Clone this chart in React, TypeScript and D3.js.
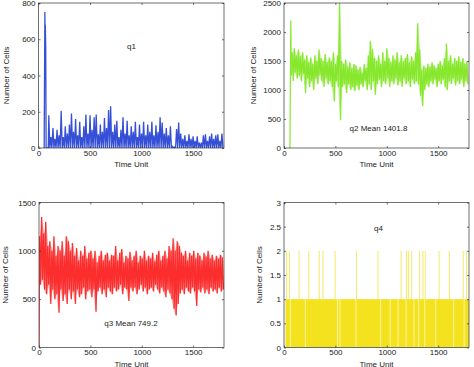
import React from 'react';
import * as d3 from 'd3';

const FONT = '"Liberation Sans", Arial, Helvetica, sans-serif';

// shared time axis
const timeMax = 1800;
const timeTicks = [0, 500, 1000, 1500];
const step = 20;

// q1: opening burst, then spike peaks every 20 time units from t=100
const q1HeadT = [55, 62, 64, 66, 70, 74, 95];
const q1HeadV = [0, 750, 480, 680, 560, 0, 0];
const q1Start = 100;
const q1Peaks = [
  180, 60, 110, 50, 100, 70, 205, 60, 120, 80,
  130, 190, 90, 160, 70, 145, 60, 120, 185, 80,
  180, 100, 170, 185, 75, 130, 90, 165, 110, 210,
  230, 90, 130, 150, 60, 100, 170, 80, 150, 70,
  120, 90, 145, 60, 130, 80, 145, 70, 130, 90,
  145, 70, 125, 90, 170, 140, 80, 110, 70, 120,
  10, 5, 105, 140, 80, 50, 70, 40, 75, 50,
  65, 40, 65, 30, 30, 70, 75, 40, 65, 80,
  50, 70, 75, 40, 80,
];
const q1Ticks = [0, 200, 400, 600, 800];

// q2: highs / lows per 20-unit bin from t=80
const q2HeadT = [58, 66, 72];
const q2HeadV = [0, 2200, 1250];
const q2Start = 80;
const q2Hi = [
  1650, 1720, 1600, 1700, 1580, 1650, 1520, 1600, 1480, 1560,
  1450, 1600, 1500, 1700, 1550, 1500, 1620, 1480, 1560, 1500,
  1650, 1450, 1600, 2550, 1500, 1450, 1520, 1400, 1480, 1380,
  1450, 1420, 1350, 1400, 1300, 1450, 1380, 1600, 1850, 1700,
  1550, 1500, 1600, 1450, 1650, 1500, 1720, 1550, 1480, 1600,
  1520, 1650, 1480, 1600, 1500, 1550, 1620, 1480, 1580, 1500,
  1650, 2150, 1700, 1350, 1420, 1380, 1450, 1400, 1480, 1420,
  1380, 1450, 1500, 1420, 1550, 1800, 1500, 1600, 1450, 1550,
  1500, 1580, 1480, 1550, 1450, 1500,
];
const q2Lo = [
  1150, 1300, 1200, 1250, 1150, 1280, 950, 1200, 1050, 1150,
  1000, 1200, 1100, 1250, 1150, 1050, 1200, 1100, 1150, 1050,
  800, 1150, 1050, 480, 1050, 1100, 950, 1100, 1000, 1050,
  980, 1080, 1000, 1100, 1050, 1150, 1000, 1100, 1000, 1150,
  920, 1100, 1180, 1050, 1150, 1100, 1200, 1050, 1150, 1100,
  1200, 1080, 1150, 1050, 1200, 1100, 1150, 1050, 1180, 1100,
  1150, 1100, 900, 720, 1000, 1100, 1050, 1150, 1100, 1180,
  1050, 1150, 1100, 1180, 1050, 1000, 1150, 1100, 1200, 1080,
  1150, 1100, 1180, 1050, 1150, 1100,
];
const q2Ticks = [0, 500, 1000, 1500, 2000, 2500];

// q3: highs / lows per 20-unit bin from t=5
const q3HeadT = [0];
const q3HeadV = [0];
const q3Start = 5;
const q3Hi = [
  1150, 1350, 1180, 1300, 1050, 1100, 1000, 1150, 950, 1050,
  1000, 1100, 950, 1150, 1100, 1000, 1080, 950, 1030, 900,
  1000, 950, 1050, 920, 980, 1000, 920, 1000, 880, 950,
  1000, 900, 960, 980, 900, 960, 950, 1050, 900, 980,
  1020, 880, 950, 920, 990, 900, 950, 1000, 880, 950,
  920, 1000, 900, 950, 920, 980, 890, 960, 1000, 900,
  950, 1000, 920, 1050, 1000, 1130, 1000, 1100, 1050, 980,
  950, 1000, 900, 980, 950, 1000, 920, 980, 950, 900,
  980, 940, 1000, 920, 960, 900, 950, 920, 960, 930,
];
const q3Lo = [
  650, 700, 600, 550, 650, 450, 600, 500, 550, 360,
  600, 480, 550, 450, 600, 500, 580, 450, 600, 520,
  550, 620, 500, 580, 600, 520, 600, 370, 580, 620,
  550, 600, 520, 620, 580, 550, 620, 580, 600, 650,
  550, 620, 600, 480, 620, 580, 620, 550, 600, 650,
  580, 620, 550, 600, 620, 580, 650, 600, 560, 620,
  580, 520, 600, 560, 500, 400, 330, 450, 560, 600,
  550, 620, 580, 560, 620, 580, 430, 600, 570, 620,
  560, 600, 550, 620, 580, 600, 560, 620, 580, 600,
];
const q3Ticks = [0, 500, 1000, 1500];

// q4: mostly 1, with brief jumps to 2 and drops to 0
const q4Fill = [15, 1800];
const q4Spikes = [25, 54, 147, 241, 343, 379, 497, 706, 915, 1140, 1192, 1210, 1242, 1320, 1352, 1374, 1509, 1609, 1744, 1776];
const q4Gaps = [62, 208, 520, 545, 700, 940, 1034, 1110, 1188, 1265, 1310, 1370, 1477, 1650, 1753];
const q4Ticks = [0, 0.5, 1, 1.5, 2, 2.5, 3];

type Pt = { t: number; v: number };
type Bin = { t: number; hi: number; lo: number };

const head = (ts: number[], vs: number[]): Pt[] => ts.map((t, i) => ({ t, v: vs[i] }));
const zigzag = (start: number, hi: number[], lo: number[] | null): Pt[] =>
  hi.flatMap((h, i) => [
    { t: start + i * step, v: h },
    { t: start + i * step + step / 2, v: lo ? lo[i] : 0 },
  ]);
const bins = (start: number, hi: number[], lo: number[] | null): Bin[] =>
  hi.map((h, i) => ({ t: start + i * step + step / 4, hi: h, lo: lo ? lo[i] : 0 }));

const q1Series = [...head(q1HeadT, q1HeadV), ...zigzag(q1Start, q1Peaks, null)];
const q2Series = [...head(q2HeadT, q2HeadV), ...zigzag(q2Start, q2Hi, q2Lo)];
const q3Series = [...head(q3HeadT, q3HeadV), ...zigzag(q3Start, q3Hi, q3Lo)];

const panels = [
  { id: 'q1', left: 38.5, right: 224, top: 3, bottom: 148, yMax: 800, yTicks: q1Ticks, color: '#1f3cd2', width: 1.3, series: q1Series, band: null, title: 'q1', tx: 131.5, ty: 49, lx: 9 },
  { id: 'q2', left: 284, right: 469, top: 3, bottom: 148, yMax: 2500, yTicks: q2Ticks, color: '#80e620', width: 1.25, series: q2Series, band: bins(q2Start, q2Hi, q2Lo), title: 'q2 Mean 1401.8', tx: 378.5, ty: 130.5, lx: 256 },
  { id: 'q3', left: 39, right: 224, top: 202.5, bottom: 347.5, yMax: 1500, yTicks: q3Ticks, color: '#fb2020', width: 1.3, series: q3Series, band: bins(q3Start, q3Hi, q3Lo), title: 'q3 Mean 749.2', tx: 131, ty: 325.5, lx: 8 },
  { id: 'q4', left: 284, right: 469, top: 202.5, bottom: 347.5, yMax: 3, yTicks: q4Ticks, color: '#f5e21e', width: 1, series: null, band: null, title: 'q4', tx: 378.5, ty: 230.5, lx: 262 },
];

export default function App() {
  const ref = React.useRef<SVGSVGElement>(null);

  React.useEffect(() => {
    if (!ref.current) return;
    const svg = d3.select(ref.current);
    svg.selectAll('*').remove();

    panels.forEach((p) => {
      const x = d3.scaleLinear().domain([0, timeMax]).range([p.left, p.right]);
      const y = d3.scaleLinear().domain([0, p.yMax]).range([p.bottom, p.top]);
      const g = svg.append('g');

      g.append('clipPath').attr('id', `clip-${p.id}`)
        .append('rect')
        .attr('x', p.left).attr('y', p.top)
        .attr('width', p.right - p.left).attr('height', p.bottom - p.top);

      const plot = g.append('g').attr('clip-path', `url(#clip-${p.id})`);

      if (p.band) {
        // soft fill between the bin highs and lows, the noisy core of the trace
        const area = d3.area<Bin>().x((d) => x(d.t)).y0((d) => y(d.lo)).y1((d) => y(d.hi));
        plot.append('path')
          .attr('d', area(p.band))
          .attr('fill', p.color)
          .attr('fill-opacity', 0.4);
      }

      if (p.series) {
        const line = d3.line<Pt>().x((d) => x(d.t)).y((d) => y(d.v));
        plot.append('path')
          .attr('d', line(p.series))
          .attr('fill', 'none')
          .attr('stroke', p.color)
          .attr('stroke-width', p.width)
          .attr('stroke-linejoin', 'bevel')
          .attr('stroke-opacity', 0.9);
      } else {
        // q4
        plot.append('rect')
          .attr('x', x(q4Fill[0])).attr('width', x(q4Fill[1]) - x(q4Fill[0]))
          .attr('y', y(1)).attr('height', y(0) - y(1))
          .attr('fill', p.color);
        plot.selectAll('.gap').data(q4Gaps).enter().append('line')
          .attr('x1', (d) => x(d)).attr('x2', (d) => x(d))
          .attr('y1', y(0)).attr('y2', y(1))
          .attr('stroke', '#fff8c8').attr('stroke-width', 0.8);
        plot.selectAll('.spike').data(q4Spikes).enter().append('line')
          .attr('x1', (d) => x(d)).attr('x2', (d) => x(d))
          .attr('y1', y(1)).attr('y2', y(2))
          .attr('stroke', '#f3e55a').attr('stroke-width', 0.9);
      }

      // frame and inward ticks on all four sides
      const fmt = (d: any) => String(d);
      const axes = g.append('g');
      axes.append('g').attr('transform', `translate(0,${p.bottom})`)
        .call(d3.axisBottom(x).tickValues(timeTicks).tickSize(-2).tickPadding(2).tickFormat(fmt));
      axes.append('g').attr('transform', `translate(0,${p.top})`)
        .call(d3.axisTop(x).tickValues(timeTicks).tickSize(-2).tickFormat(() => ''));
      axes.append('g').attr('transform', `translate(${p.left},0)`)
        .call(d3.axisLeft(y).tickValues(p.yTicks).tickSize(-2).tickPadding(3).tickFormat(fmt));
      axes.append('g').attr('transform', `translate(${p.right},0)`)
        .call(d3.axisRight(y).tickValues(p.yTicks).tickSize(-2).tickFormat(() => ''));
      axes.selectAll('.domain').remove();
      axes.selectAll('line').attr('stroke', '#333').attr('stroke-width', 0.7);
      axes.selectAll('text').attr('font-size', 8).attr('font-family', FONT).attr('fill', '#222');

      g.append('rect')
        .attr('x', p.left).attr('y', p.top)
        .attr('width', p.right - p.left).attr('height', p.bottom - p.top)
        .attr('fill', 'none').attr('stroke', '#333').attr('stroke-width', 0.7);

      // labels
      g.append('text')
        .attr('x', (p.left + p.right) / 2).attr('y', p.bottom + 19)
        .attr('text-anchor', 'middle')
        .attr('font-size', 8).attr('font-family', FONT).attr('fill', '#222')
        .text('Time Unit');
      g.append('text')
        .attr('transform', `translate(${p.lx},${(p.top + p.bottom) / 2}) rotate(-90)`)
        .attr('text-anchor', 'middle')
        .attr('font-size', 8).attr('font-family', FONT).attr('fill', '#222')
        .text('Number of Cells');
      g.append('text')
        .attr('x', p.tx).attr('y', p.ty)
        .attr('text-anchor', 'middle')
        .attr('font-size', 8).attr('font-family', FONT).attr('fill', '#222')
        .text(p.title);
    });
  }, []);

  return (
    <svg
      ref={ref}
      width={474}
      height={367}
      style={{ position: 'absolute', left: 0, top: 0, background: '#fff' }}
    />
  );
}
